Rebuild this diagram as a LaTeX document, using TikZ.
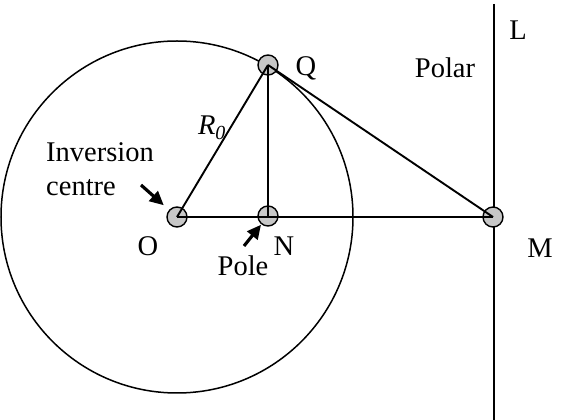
\documentclass[tikz,border=0pt]{standalone}
\usepackage{fontspec}
\setmainfont{Liberation Serif}
\usepackage{tikz}
\usetikzlibrary{arrows.meta}

\begin{document}
\begin{tikzpicture}[x=1pt, y=1pt, >={Triangle[length=14pt,width=13pt]},
		pt/.style={circle, draw, line width=1.4pt, fill=black!22, minimum size=20pt, inner sep=0pt},
		lbl/.style={font=\fontsize{28.5}{34}\selectfont, inner sep=0pt}]
		\useasboundingbox (0,0) rectangle (565,420);

		% circle of inversion
		\draw[line width=1.5pt] (177,203) circle (176);
		\draw[line width=2pt] (494,416) -- (494,0);

		\draw (177,203) node[pt] (O) {};
		\draw (268,204) node[pt] (N) {};
		\draw (268,355) node[pt] (Q) {};
		\draw (493,203) node[pt] (M) {};

		\draw[line width=1.9pt] (O.center) -- (Q.center);
		\draw[line width=1.9pt] (Q.center) -- (N.center);
		\draw[line width=1.9pt] (O.center) -- (M.center);
		\draw[line width=1.9pt] (Q.center) -- (M.center);

		\draw (148,174) node[lbl] (Olbl) {O};
		\draw (284,174) node[lbl] (Nlbl) {N};
		\draw (306,352) node[lbl] (Qlbl) {Q};
		\draw (540,172) node[lbl] (Mlbl) {M};
		\draw (518,390) node[lbl] (Llbl) {L};
		\draw (445,352) node[lbl] (polar) {Polar};
		\draw (243,154) node[lbl] (pole) {Pole};
		\draw (212,292) node[lbl] (R) {\textit{R}\textsubscript{\textit{0}}};
		\draw (46,251) node[lbl, anchor=west, align=left] (inv) {Inversion\\centre};

		\coordinate (invtail) at (141,235);
		\coordinate (poletail) at (244,174);
		\draw[->, line width=3.2pt, shorten >=7pt] (invtail) -- (O);
		\draw[->, line width=3.2pt, shorten >=0.5pt] (poletail) -- (N);
	\end{tikzpicture}
\end{document}
